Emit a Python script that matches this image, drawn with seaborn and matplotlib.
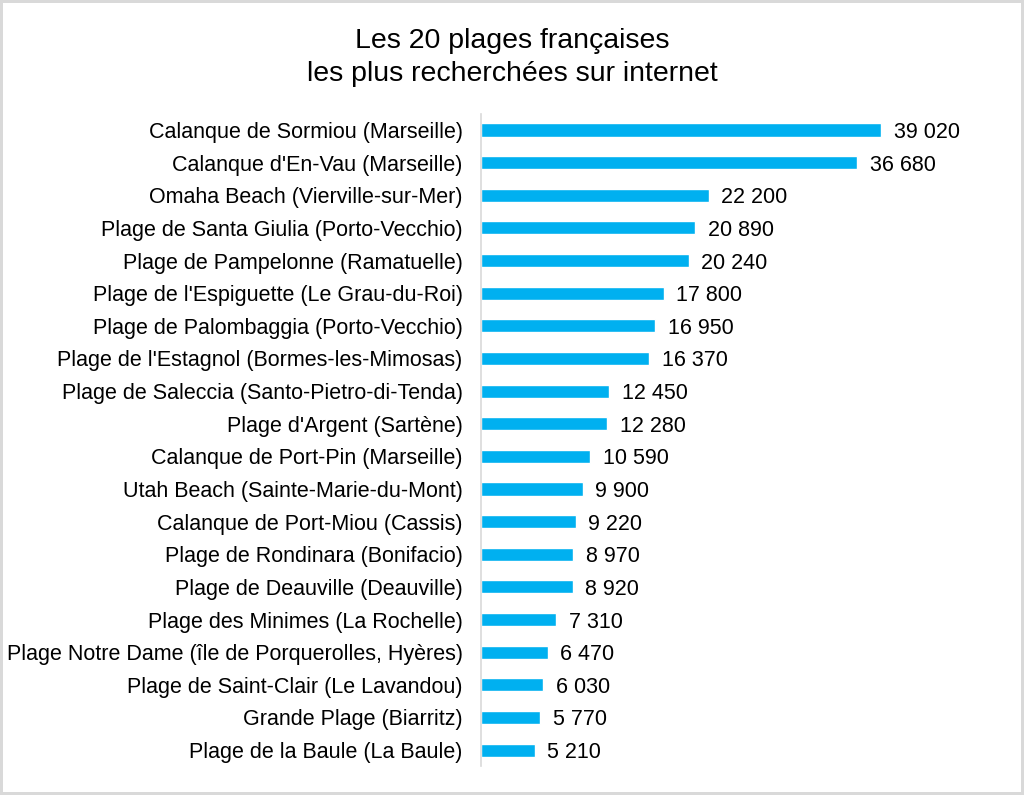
import matplotlib
matplotlib.use('Agg')
import matplotlib.pyplot as plt
import seaborn as sns
import pandas as pd

plages = [
    "Calanque de Sormiou (Marseille)",
    "Calanque d'En-Vau (Marseille)",
    "Omaha Beach (Vierville-sur-Mer)",
    "Plage de Santa Giulia (Porto-Vecchio)",
    "Plage de Pampelonne (Ramatuelle)",
    "Plage de l'Espiguette (Le Grau-du-Roi)",
    "Plage de Palombaggia (Porto-Vecchio)",
    "Plage de l'Estagnol (Bormes-les-Mimosas)",
    "Plage de Saleccia (Santo-Pietro-di-Tenda)",
    "Plage d'Argent (Sartène)",
    "Calanque de Port-Pin (Marseille)",
    "Utah Beach (Sainte-Marie-du-Mont)",
    "Calanque de Port-Miou (Cassis)",
    "Plage de Rondinara (Bonifacio)",
    "Plage de Deauville (Deauville)",
    "Plage des Minimes (La Rochelle)",
    "Plage Notre Dame (île de Porquerolles, Hyères)",
    "Plage de Saint-Clair (Le Lavandou)",
    "Grande Plage (Biarritz)",
    "Plage de la Baule (La Baule)",
]
recherches = [39020, 36680, 22200, 20890, 20240, 17800, 16950, 16370, 12450, 12280,
              10590, 9900, 9220, 8970, 8920, 7310, 6470, 6030, 5770, 5210]

df = pd.DataFrame({'plage': plages, 'recherches': recherches})

sns.set_style('white')
plt.rcParams['font.family'] = ['Liberation Sans', 'DejaVu Sans']

fig = plt.figure(figsize=(10.24, 7.95), dpi=100, edgecolor='#d9d9d9', linewidth=3)
ax = fig.add_axes([0.47, 0.036, 0.50, 0.821])

sns.barplot(data=df, x='recherches', y='plage', orient='h', color='#00B0F0',
            saturation=1, width=0.40, ax=ax)

# étiquettes de valeurs avec espace comme séparateur de milliers
for i, v in enumerate(recherches):
    ax.text(v + 1250, i, f"{v:,}".replace(',', ' '), va='center_baseline', ha='left',
            fontsize=15.5, color='black')

ax.set_xlim(0, 50000)
ax.set_ylim(19.5, -0.5)
ax.set_xlabel('')
ax.set_ylabel('')
ax.set_xticks([])
ax.tick_params(axis='y', length=0, pad=13.5, labelsize=15.5, labelcolor='black')
for s in ['top', 'right', 'bottom']:
    ax.spines[s].set_visible(False)
ax.spines['left'].set_color('#d9d9d9')
ax.spines['left'].set_linewidth(1.2)

fig.text(0.5, 0.928, "Les 20 plages françaises\nles plus recherchées sur internet",
         ha='center', va='center', fontsize=20.5, linespacing=1.35, color='black')

fig.savefig('out.png', dpi=100, edgecolor=fig.get_edgecolor())
